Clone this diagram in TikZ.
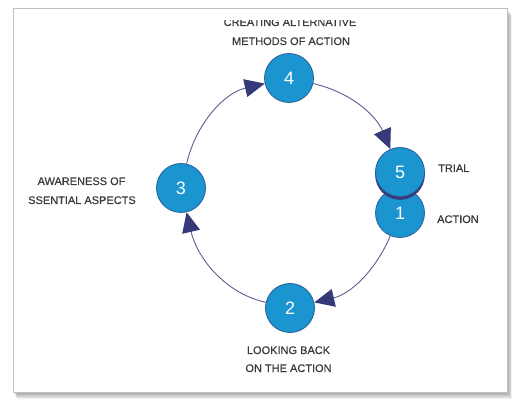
\documentclass[tikz,border=0pt]{standalone}
\usepackage{fontspec}
\setmainfont{Liberation Sans}
\newfontfamily\lblfont{Liberation Sans}[BoldFont={Liberation Sans}, BoldFeatures={FakeBold=0.35}]
\usetikzlibrary{arrows.meta}
\definecolor{cblue}{HTML}{1A95D0}
\definecolor{cedge}{HTML}{2A5E99}
\definecolor{navy}{HTML}{363A78}
\definecolor{lineC}{HTML}{5C5F8F}
\definecolor{txt}{HTML}{3A3A3A}
\begin{document}
\begin{tikzpicture}[x=1pt,y=1pt,
  stage/.style={circle, fill=cblue, draw=cedge, line width=0.8pt, minimum size=49pt, inner sep=0pt, text=white, font=\fontsize{18}{20}\selectfont},
  lbl/.style={text=txt, font=\lblfont\bfseries\fontsize{11}{13}\selectfont, inner sep=0pt},
  flow/.style={draw=lineC, line width=0.9pt, looseness=0.95, -{Triangle[length=20pt,width=18pt,color=navy]}}
]
\useasboundingbox (0,0) rectangle (518,406);
\fill[white] (0,0) rectangle (518,406);
% frame shadow
\foreach \i in {1,...,7}{
  \fill[black,opacity=0.06] (13+0.5*\i,14-\i) rectangle (507+0.7*\i,398-\i);
}
\fill[white] (13,14) rectangle (507,398);
\draw[black!25, line width=0.6pt] (13,14) rectangle (507,398);

\begin{scope}
\clip (28,0) rectangle (508,385);
% nodes
\node[stage] (n4) at (289,328) {4};
\node[stage] (n3) at (181,218) {3};
\node[stage] (n2) at (290,98) {2};
\node[stage] (n1) at (400,193) {1};
\fill[navy] (400,231) circle (24.8);
\node[stage] (n5) at (400,234) {5};

% connectors
\draw[flow] (n1) to[out=-113,in=13] (n2);
\draw[flow] (n2) to[out=167,in=-77] (n3);
\draw[flow] (n3) to[out=77,in=193] (n4);
\draw[flow] (n4) to[out=-13,in=113] (n5);

% labels
\node[lbl, anchor=base] (t4a) at (290,380) {CREATING ALTERNATIVE};
\node[lbl, anchor=base] (t4b) at (291,361) {METHODS OF ACTION};
\node[lbl, anchor=base] (t3a) at (81.5,221) {AWARENESS OF};
\node[lbl, anchor=base west] (t3b) at (28,202) {SSENTIAL ASPECTS};
\node[lbl, anchor=base west] (t5) at (438,234) {TRIAL};
\node[lbl, anchor=base west] (t1) at (437,183) {ACTION};
\node[lbl, anchor=base] (t2a) at (288.5,52) {LOOKING BACK};
\node[lbl, anchor=base] (t2b) at (288.5,34) {ON THE ACTION};
\end{scope}
\end{tikzpicture}
\end{document}
